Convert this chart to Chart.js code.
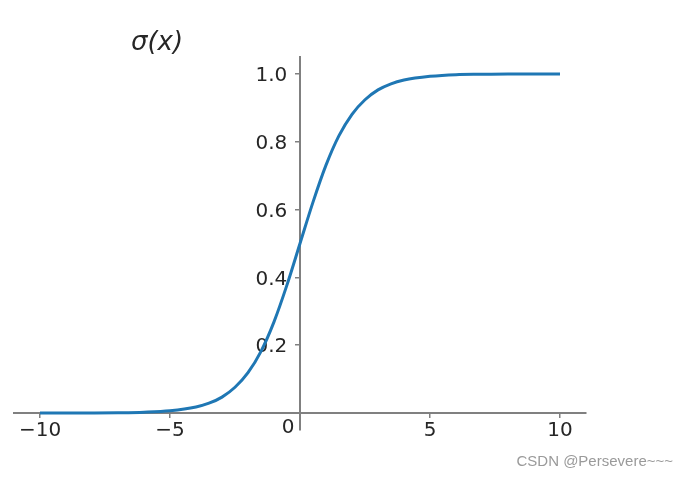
<!DOCTYPE html>
<html>
<head>
<meta charset="utf-8">
<script src="https://cdn.jsdelivr.net/npm/chart.js@4/dist/chart.umd.min.js"></script>
<style>
  html, body { margin: 0; padding: 0; background: #fff; }
  #wrap { width: 687px; height: 477px; }
</style>
</head>
<body>
<div id="wrap"><canvas id="c"></canvas></div>
<script>
// sigmoid curve, values
const xs = [-10, -9, -8, -7, -6, -5, -4, -3.5, -3, -2.5, -2, -1.5, -1, -0.5, 0,
            0.5, 1, 1.5, 2, 2.5, 3, 3.5, 4, 5, 6, 7, 8, 9, 10];
const sig = [0.0000, 0.0001, 0.0003, 0.0009, 0.0025, 0.0067, 0.018, 0.029, 0.047, 0.076, 0.119, 0.182, 0.269, 0.378, 0.5,
             0.622, 0.731, 0.818, 0.881, 0.924, 0.953, 0.971, 0.982, 0.993, 0.998, 0.999, 1.0, 1.0, 1.0];
const xTicks = [-10, -5, 5, 10];
const yTicks = [0.2, 0.4, 0.6, 0.8, 1.0];

const AXIS = "#808080";
const TEXT = "#262626";
const FONT = "'DejaVu Sans', sans-serif";

// "0" sits left of the y spine, plus the sigma label and watermark
const extras = {
  id: "extras",
  afterDraw(chart) {
    const { ctx, scales } = chart;
    const x0 = scales.x.getPixelForValue(0);
    const y0 = scales.y.getPixelForValue(0);
    ctx.save();
    ctx.fillStyle = TEXT;
    ctx.font = "20px " + FONT;
    ctx.textAlign = "center";
    ctx.textBaseline = "top";
    ctx.fillText("0", x0 - 12, y0 + 5);

    ctx.font = "italic 26px " + FONT;
    ctx.textBaseline = "middle";
    ctx.fillText("σ(x)", 157, 43);

    ctx.font = "15px 'Liberation Sans', Arial, sans-serif";
    ctx.fillStyle = "#9a9a9a";
    ctx.textAlign = "right";
    ctx.fillText("CSDN @Persevere~~~", 673, 462);
    ctx.restore();
  }
};

new Chart(document.getElementById("c"), {
  type: "line",
  data: {
    datasets: [{
      data: xs.map((x, i) => ({ x, y: sig[i] })),
      borderColor: "#1f77b4",
      borderWidth: 3,
      pointRadius: 0,
      cubicInterpolationMode: "monotone",
      fill: false
    }]
  },
  options: {
    responsive: true,
    maintainAspectRatio: false,
    animation: false,
    layout: { padding: { left: 14, top: 57, right: 101, bottom: 47 } },
    plugins: { legend: { display: false }, tooltip: { enabled: false } },
    scales: {
      x: {
        type: "linear",
        min: -11, max: 11,
        position: { y: 0 },
        afterBuildTicks: (s) => { s.ticks = xTicks.map(v => ({ value: v })); },
        grid: { drawOnChartArea: false, drawTicks: true, tickLength: 4, color: AXIS, lineWidth: 1.5 },
        border: { display: true, color: AXIS, width: 2 },
        ticks: { color: TEXT, font: { family: FONT, size: 20 }, padding: 2, maxRotation: 0,
                 callback: (v) => (v < 0 ? "\u2212" + Math.abs(v) : String(v)) }
      },
      y: {
        type: "linear",
        min: -0.05, max: 1.05,
        position: { x: 0 },
        afterBuildTicks: (s) => { s.ticks = yTicks.map(v => ({ value: v })); },
        grid: { drawOnChartArea: false, drawTicks: true, tickLength: 4, color: AXIS, lineWidth: 1.5 },
        border: { display: true, color: AXIS, width: 2 },
        // centred axes put the label edge on the spine, so pad with spaces
        ticks: { color: TEXT, font: { family: FONT, size: 20 }, padding: 7, labelOffset: 2,
                 callback: (v) => Number(v).toFixed(1) + "  " }
      }
    }
  },
  plugins: [extras]
});
</script>
</body>
</html>
